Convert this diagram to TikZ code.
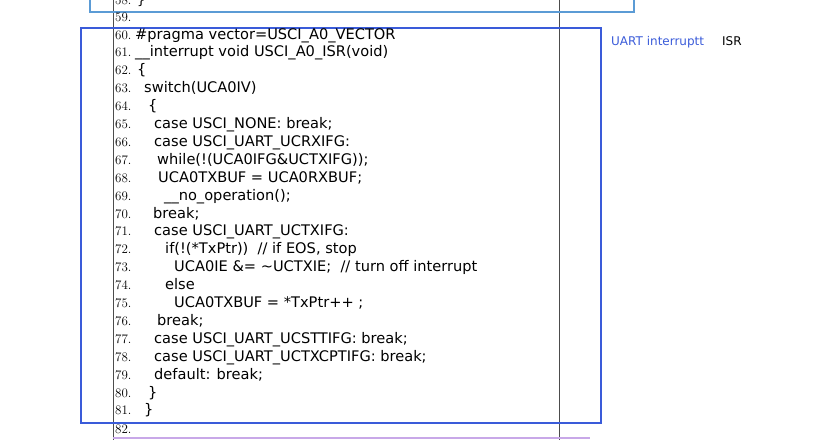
\documentclass[tikz,border=0pt]{standalone}
\usepackage{fontspec}
\setsansfont{DejaVu Sans}
\definecolor{boxblue}{HTML}{3A5BD9}
\definecolor{lightblue}{HTML}{5B9BD5}
\definecolor{lav}{HTML}{C8A8E8}
\begin{document}
\begin{tikzpicture}[x=1pt,y=-1pt,
  num/.style={anchor=base west,inner sep=0,font=\fontsize{13}{13}\selectfont},
  code/.style={anchor=base west,inner sep=0,font=\sffamily\fontsize{14.6}{14.6}\selectfont}]
\useasboundingbox (0,0) rectangle (822,440);
\draw[gray!60!black,line width=1] (113,0) -- (113,440) (559,0) -- (559,440);
\draw[lightblue,line width=1.5] (90,-5) rectangle (634,12);
\draw[boxblue,line width=1.8] (81,28) rectangle (601,423);
\draw[lav,line width=1.2] (113,438) -- (590,438);
\node[num] (n58) at (115,4) {58. \sffamily\}};
\node[num] (n59) at (115,21) {59.};
\foreach \n/\x/\t [count=\i from 0] in {
 60/135/{\#pragma vector=USCI\_A0\_VECTOR},
 61/135/{\_\_interrupt void USCI\_A0\_ISR(void)},
 62/137/{\{},
 63/144/{switch(UCA0IV)},
 64/148/{\{},
 65/154/{case USCI\_NONE: break;},
 66/154/{case USCI\_UART\_UCRXIFG:},
 67/157/{while(!(UCA0IFG\&UCTXIFG));},
 68/158/{UCA0TXBUF = UCA0RXBUF;},
 69/164/{\_\_no\_operation();},
 70/153/{break;},
 71/154/{case USCI\_UART\_UCTXIFG:},
 72/165/{if(!(*TxPtr))~~\char47\char47{} if EOS, stop},
 73/174/{UCA0IE \&= \textasciitilde UCTXIE;~~\char47\char47{} turn off interrupt},
 74/165/{else},
 75/174/{UCA0TXBUF = *TxPtr++ ;},
 76/157/{break;},
 77/154/{case USCI\_UART\_UCSTTIFG: break;},
 78/154/{case USCI\_UART\_UCTXCPTIFG: break;},
 79/154/{default: break;},
 80/148/{\}},
 81/144/{\}}} {
  \node[num] (l\n) at (115,{39+17.9*\i}) {\n.};
  \node[code] (c\n) at (\x,{39+17.9*\i}) {\t};
}
\node[num] (n82) at (115,433) {82.};
\node[anchor=base west,inner sep=0,font=\sffamily\fontsize{12}{12}\selectfont,text=boxblue] (lab) at (611,45) {UART interruptt};
\node[anchor=base west,inner sep=0,font=\sffamily\fontsize{12}{12}\selectfont] (isr) at (722,45) {ISR};
\end{tikzpicture}
\end{document}
